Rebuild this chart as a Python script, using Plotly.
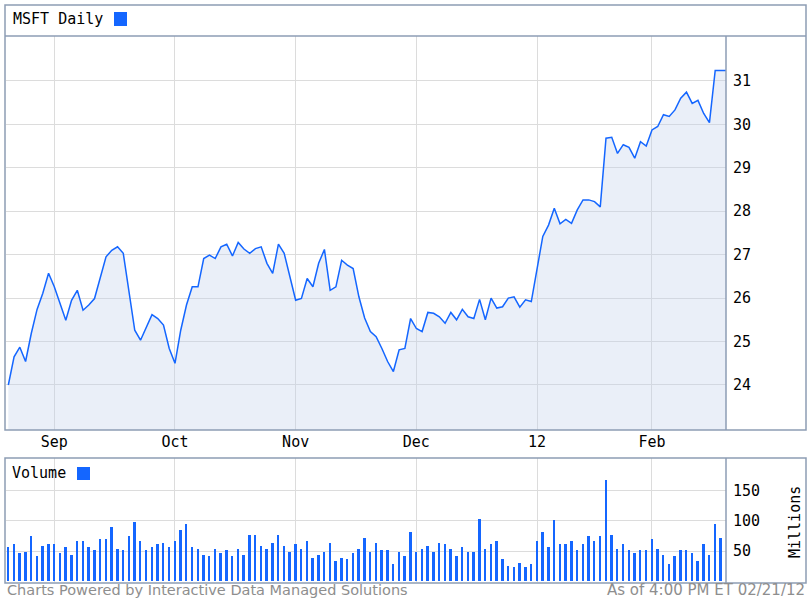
import plotly.graph_objects as go

W, H = 808, 599

# ---------------- data ----------------
price = [
    24.00, 24.65, 24.87, 24.54, 25.19, 25.74, 26.11, 26.57, 26.26, 25.86,
    25.49, 25.95, 26.18, 25.72, 25.84, 25.99, 26.45, 26.95, 27.10, 27.18,
    27.03, 26.18, 25.26, 25.03, 25.34, 25.62, 25.53, 25.38, 24.84, 24.50,
    25.26, 25.84, 26.26, 26.26, 26.91, 26.99, 26.91, 27.18, 27.24, 26.97,
    27.28, 27.13, 27.03, 27.14, 27.18, 26.80, 26.57, 27.24, 27.03, 26.49,
    25.95, 25.99, 26.45, 26.26, 26.80, 27.12, 26.18, 26.26, 26.87, 26.76,
    26.68, 26.03, 25.54, 25.23, 25.11, 24.84, 24.54, 24.31, 24.81, 24.84,
    25.53, 25.30, 25.23, 25.67, 25.65, 25.57, 25.42, 25.67, 25.50, 25.74,
    25.57, 25.53, 25.97, 25.50, 26.00, 25.77, 25.80, 26.00, 26.03, 25.79,
    25.96, 25.92, 26.72, 27.42, 27.68, 28.07, 27.71, 27.81, 27.72, 28.03,
    28.26, 28.26, 28.22, 28.10, 29.68, 29.70, 29.33, 29.53, 29.47, 29.22,
    29.60, 29.50, 29.87, 29.95, 30.22, 30.18, 30.33, 30.60, 30.74, 30.48,
    30.55, 30.25, 30.04, 31.24, 31.24, 31.24,
]

volume = [
    56, 62, 46, 49, 75, 41, 59, 62, 62, 46,
    56, 44, 67, 67, 56, 51, 70, 70, 90, 54,
    51, 75, 98, 67, 51, 56, 62, 64, 56, 67,
    85, 95, 56, 54, 44, 41, 54, 46, 51, 41,
    54, 44, 77, 77, 59, 54, 64, 77, 59, 49,
    62, 54, 67, 39, 44, 49, 64, 33, 39, 36,
    46, 54, 72, 49, 64, 51, 51, 28, 49,
    41, 82, 49, 54, 59, 49, 64, 62, 54, 41,
    56, 49, 49, 103, 54, 62, 67, 36, 25, 23,
    30, 23, 28, 67, 82, 56, 101, 62, 62, 67,
    51, 62, 75, 67, 75, 167, 77, 54, 62, 51,
    46, 51, 51, 70, 54, 44, 28, 41, 51, 51,
    46, 33, 62, 44, 95, 72,
]

month_start_idx = [8, 29, 50, 71, 92, 112]
month_labels = ["Sep", "Oct", "Nov", "Dec", "12", "Feb"]
price_ticks = [24, 25, 26, 27, 28, 29, 30, 31]
volume_ticks = [50, 100, 150]

title_text = "MSFT Daily"
volume_title = "Volume"
volume_unit = "Millions"
footer_left = "Charts Powered by Interactive Data Managed Solutions"
footer_right = "As of 4:00 PM ET 02/21/12"

# ---------------- styling ----------------
BLUE = "#1466ff"
GRID = "#dcdcdc"
BORDER = "#8d9db4"
MONO = "DejaVu Sans Mono"


def px(x):
    return x / W


def py(y):
    return 1 - y / H


x_idx_p = list(range(len(price)))
x_idx_v = list(range(len(volume)))

fig = go.Figure()

fig.add_trace(go.Scatter(
    x=x_idx_p, y=price, mode="lines",
    line=dict(color=BLUE, width=1.5),
    fill="tozeroy", fillcolor="rgba(196,212,236,0.36)",
    xaxis="x", yaxis="y", hoverinfo="skip", showlegend=False,
))

fig.add_trace(go.Bar(
    x=x_idx_v, y=volume, width=0.34,
    marker=dict(color=BLUE, line=dict(width=0)),
    xaxis="x2", yaxis="y2", hoverinfo="skip", showlegend=False,
))

xrange = [-0.405, 124.88]
xdom = [px(6), px(726)]

fig.update_layout(
    width=W, height=H,
    margin=dict(l=0, r=0, t=0, b=0),
    paper_bgcolor="white", plot_bgcolor="white",
    bargap=0,
    xaxis=dict(
        domain=xdom, range=xrange, anchor="y",
        tickmode="array", tickvals=month_start_idx, ticktext=month_labels,
        showgrid=True, gridcolor=GRID, gridwidth=1,
        zeroline=False, showline=False, ticks="",
        tickfont=dict(family=MONO, size=15, color="#000"),
        ticklabelstandoff=1,
    ),
    yaxis=dict(
        domain=[py(430), py(36)], range=[22.964, 32.032], anchor="x",
        side="right",
        tickmode="array", tickvals=price_ticks,
        showgrid=True, gridcolor=GRID, gridwidth=1,
        zeroline=False, showline=False, ticks="",
        tickfont=dict(family=MONO, size=15, color="#000"),
        ticklabelstandoff=6,
    ),
    xaxis2=dict(
        domain=xdom, range=xrange, anchor="y2",
        tickmode="array", tickvals=month_start_idx,
        showticklabels=False,
        showgrid=True, gridcolor=GRID, gridwidth=1,
        zeroline=False, showline=False, ticks="",
    ),
    yaxis2=dict(
        domain=[py(582), py(458)], range=[-1.3, 204], anchor="x2",
        side="right",
        tickmode="array", tickvals=volume_ticks,
        showgrid=True, gridcolor=GRID, gridwidth=1,
        zeroline=False, showline=False, ticks="",
        tickfont=dict(family=MONO, size=15, color="#000"),
        ticklabelstandoff=6,
    ),
)

shapes = []


def line_px(x0, y0, x1, y1, color=BORDER, width=1.5):
    shapes.append(dict(type="line", xref="paper", yref="paper",
                       x0=px(x0), y0=py(y0), x1=px(x1), y1=py(y1),
                       line=dict(color=color, width=width), layer="above"))


def rect_px(x0, y0, x1, y1, fill=None, color=BORDER, width=1.5):
    d = dict(type="rect", xref="paper", yref="paper",
             x0=px(x0), y0=py(y0), x1=px(x1), y1=py(y1),
             line=dict(color=color, width=width), layer="above")
    if fill:
        d["fillcolor"] = fill
        d["line"] = dict(width=0)
    shapes.append(d)


# price panel borders
rect_px(5, 5, 806, 430)
line_px(5, 36, 806, 36)
line_px(726, 36, 726, 430)
# volume panel borders
rect_px(5, 458, 806, 583)
line_px(726, 458, 726, 583)
# legend squares
rect_px(114, 12, 127, 26, fill=BLUE)
rect_px(77, 467, 90, 480, fill=BLUE)

fig.update_layout(shapes=shapes)

ann = []


def text_px(x, y, s, xanchor="left", size=15, color="#000", family=MONO, angle=0):
    ann.append(dict(x=px(x), y=py(y), xref="paper", yref="paper",
                    text=s, showarrow=False, xanchor=xanchor, yanchor="middle",
                    textangle=angle, borderpad=0,
                    font=dict(family=family, size=size, color=color)))


text_px(12, 19, title_text)
text_px(11, 473, volume_title)
text_px(795, 522, volume_unit, xanchor="center", angle=-90)
text_px(6, 590, footer_left, size=14.5, color="#8e8e8e", family="DejaVu Sans")
text_px(806, 590, footer_right, xanchor="right", size=15, color="#8e8e8e",
        family="DejaVu Sans")

fig.update_layout(annotations=ann)

fig.write_html(
    "out.html",
    config={"displayModeBar": False},
    post_script="document.body.style.margin='0';document.body.style.overflow='hidden';",
)
